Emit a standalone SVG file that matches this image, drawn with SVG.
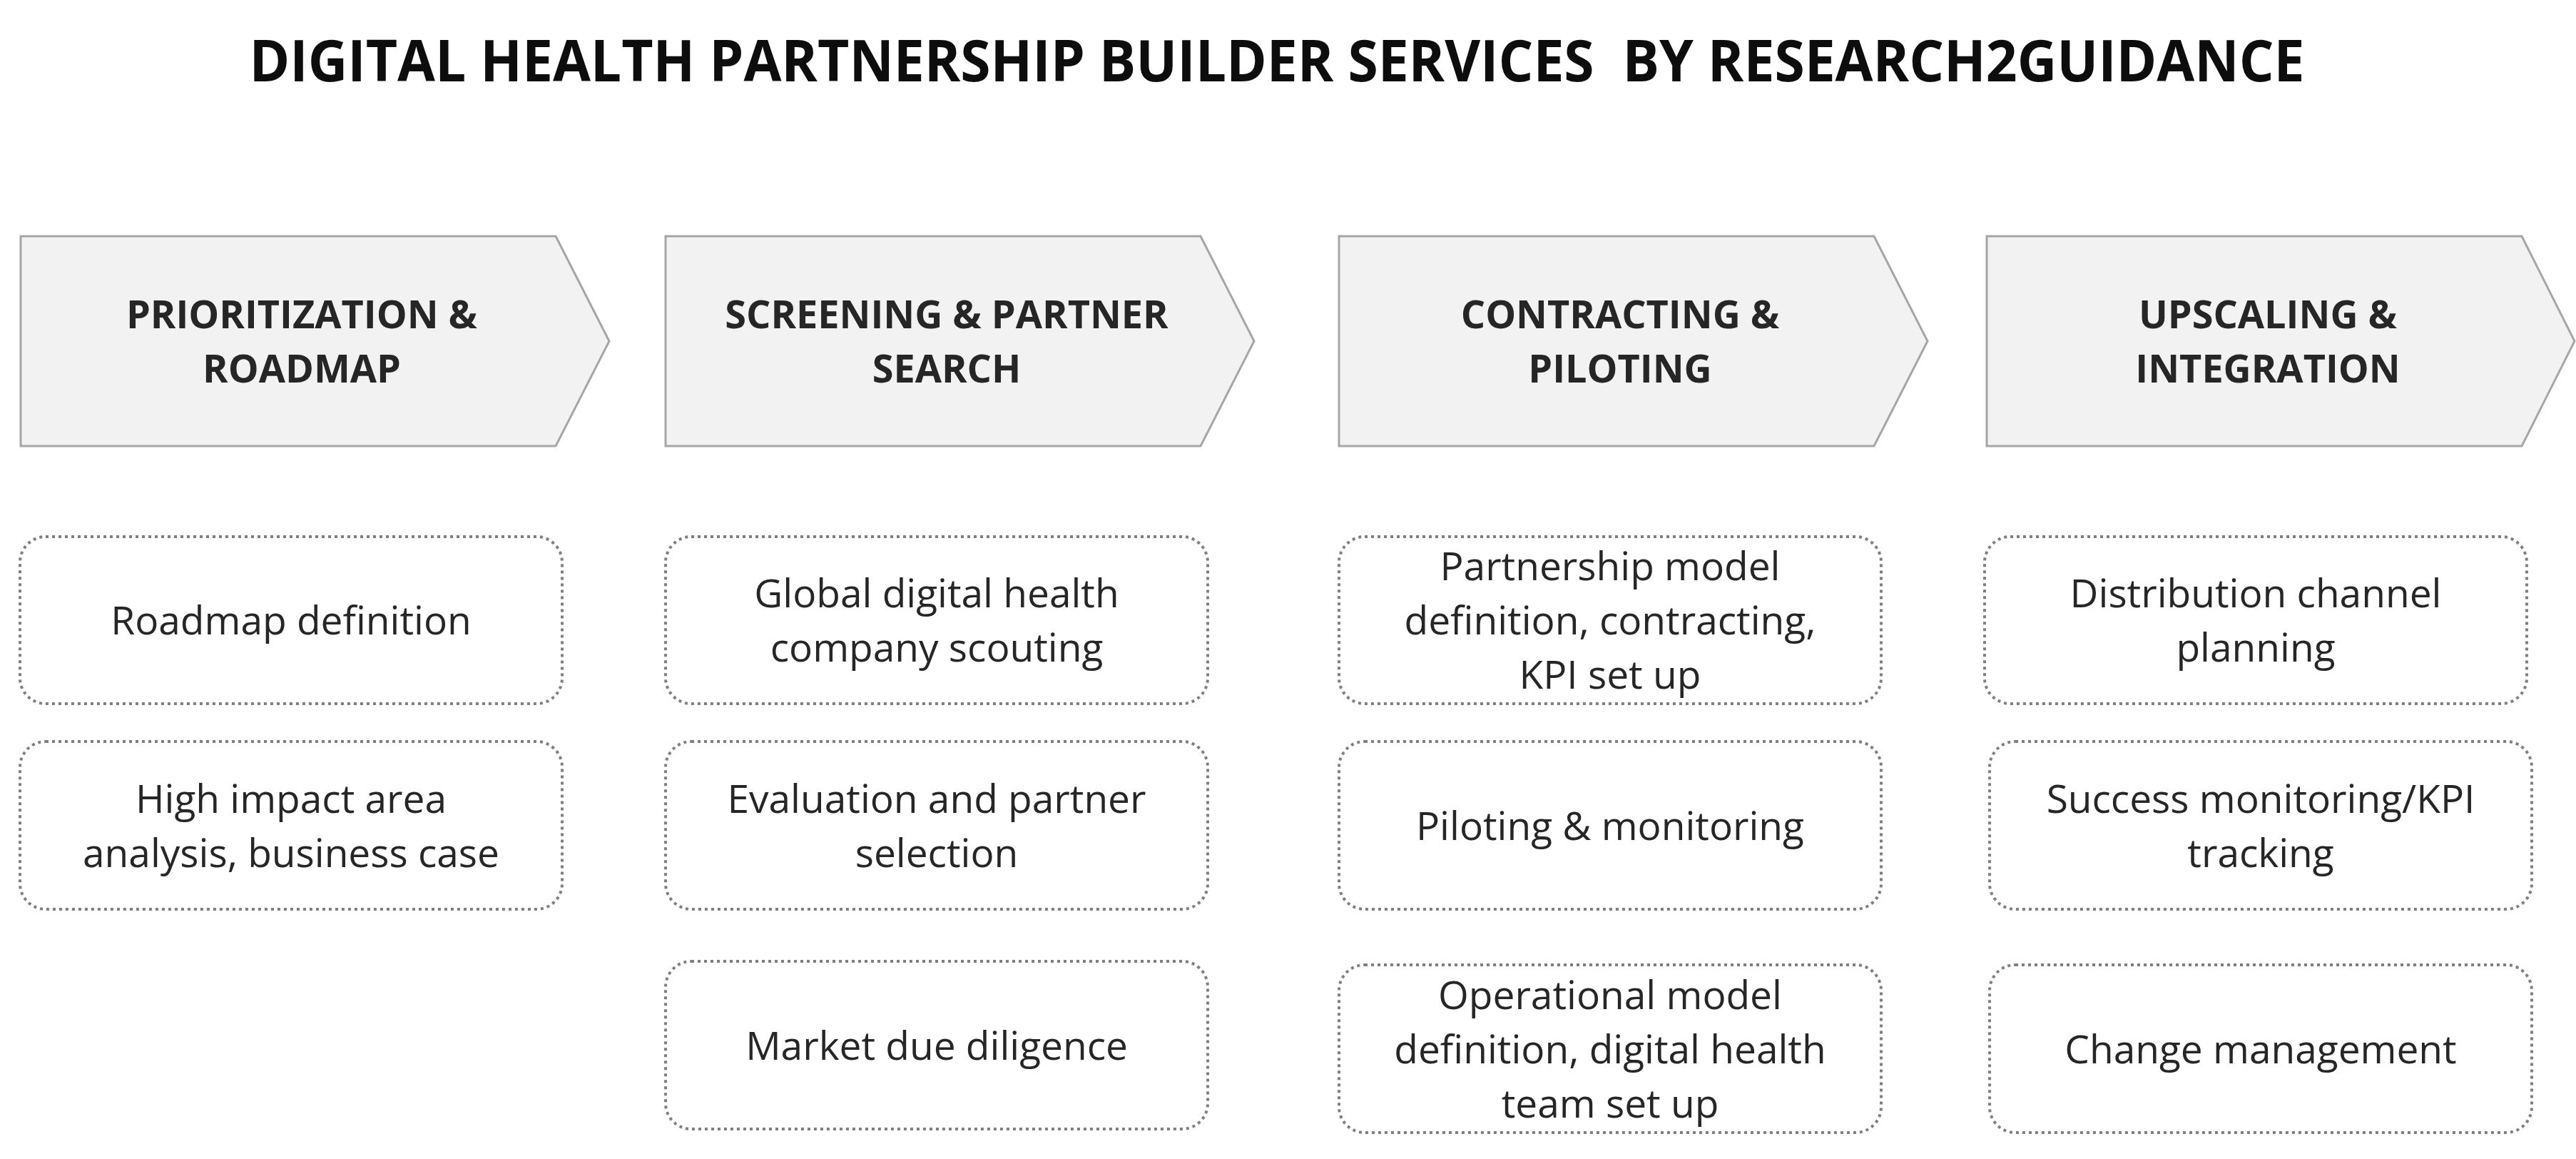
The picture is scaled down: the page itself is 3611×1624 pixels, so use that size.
<svg xmlns="http://www.w3.org/2000/svg" width="3611" height="1624" viewBox="0 0 3611 1624">
<style>
.bg{fill:#ffffff}
.title{font-family:"Open Sans","Liberation Sans",sans-serif;font-weight:700;font-size:80px;fill:#0d0d0d;text-anchor:middle;white-space:pre}
.chev{fill:#f2f2f2;stroke:#a6a6a6;stroke-width:3}
.chevt{font-family:"Open Sans","Liberation Sans",sans-serif;font-weight:700;font-size:54px;fill:#262626;text-anchor:middle}
.box{fill:#ffffff;stroke:#7f7f7f;stroke-width:4;stroke-dasharray:4 5}
.boxt{font-family:"Open Sans","Liberation Sans",sans-serif;font-size:55px;fill:#262626;text-anchor:middle}
</style>
<rect class="bg" x="0" y="0" width="3611" height="1624"/>
<g id="title"><text class="title" xml:space="preserve" x="1790" y="114" textLength="2881" lengthAdjust="spacingAndGlyphs">DIGITAL HEALTH PARTNERSHIP BUILDER SERVICES  BY RESEARCH2GUIDANCE</text></g>

<g id="phase1"><polygon class="chev" points="29,331 779,331 854,478 779,625 29,625"/><text class="chevt" x="423" y="460">PRIORITIZATION &amp;</text><text class="chevt" x="423" y="536">ROADMAP</text></g>
<g id="phase2"><polygon class="chev" points="933,331 1683,331 1758,478 1683,625 933,625"/><text class="chevt" x="1327" y="460">SCREENING &amp; PARTNER</text><text class="chevt" x="1327" y="536">SEARCH</text></g>
<g id="phase3"><polygon class="chev" points="1877,331 2627,331 2702,478 2627,625 1877,625"/><text class="chevt" x="2271" y="460">CONTRACTING &amp;</text><text class="chevt" x="2271" y="536">PILOTING</text></g>
<g id="phase4"><polygon class="chev" points="2785,331 3535,331 3609,478 3535,625 2785,625"/><text class="chevt" x="3179" y="460">UPSCALING &amp;</text><text class="chevt" x="3179" y="536">INTEGRATION</text></g>

<g id="c1b1"><rect class="box" x="28" y="752" width="760" height="234" rx="36"/><text class="boxt" x="408" y="889">Roadmap definition</text></g>
<g id="c1b2"><rect class="box" x="28" y="1039" width="760" height="235" rx="36"/><text class="boxt" x="408" y="1139">High impact area</text><text class="boxt" x="408" y="1215">analysis, business case</text></g>

<g id="c2b1"><rect class="box" x="933" y="752" width="760" height="234" rx="36"/><text class="boxt" x="1313" y="851">Global digital health</text><text class="boxt" x="1313" y="927">company scouting</text></g>
<g id="c2b2"><rect class="box" x="933" y="1039" width="760" height="235" rx="36"/><text class="boxt" x="1313" y="1139">Evaluation and partner</text><text class="boxt" x="1313" y="1215">selection</text></g>
<g id="c2b3"><rect class="box" x="933" y="1347" width="760" height="235" rx="36"/><text class="boxt" x="1313" y="1485">Market due diligence</text></g>

<g id="c3b1"><rect class="box" x="1877" y="752" width="760" height="234" rx="36"/><text class="boxt" x="2257" y="813">Partnership model</text><text class="boxt" x="2257" y="889">definition, contracting,</text><text class="boxt" x="2257" y="965">KPI set up</text></g>
<g id="c3b2"><rect class="box" x="1877" y="1039" width="760" height="235" rx="36"/><text class="boxt" x="2257" y="1177">Piloting &amp; monitoring</text></g>
<g id="c3b3"><rect class="box" x="1877" y="1352" width="760" height="235" rx="36"/><text class="boxt" x="2257" y="1414">Operational model</text><text class="boxt" x="2257" y="1490">definition, digital health</text><text class="boxt" x="2257" y="1566">team set up</text></g>

<g id="c4b1"><rect class="box" x="2782" y="752" width="760" height="234" rx="36"/><text class="boxt" x="3162" y="851">Distribution channel</text><text class="boxt" x="3162" y="927">planning</text></g>
<g id="c4b2"><rect class="box" x="2789" y="1039" width="760" height="235" rx="36"/><text class="boxt" x="3169" y="1139">Success monitoring/KPI</text><text class="boxt" x="3169" y="1215">tracking</text></g>
<g id="c4b3"><rect class="box" x="2789" y="1352" width="760" height="235" rx="36"/><text class="boxt" x="3169" y="1490">Change management</text></g>

<g id="connectors"></g>
</svg>
